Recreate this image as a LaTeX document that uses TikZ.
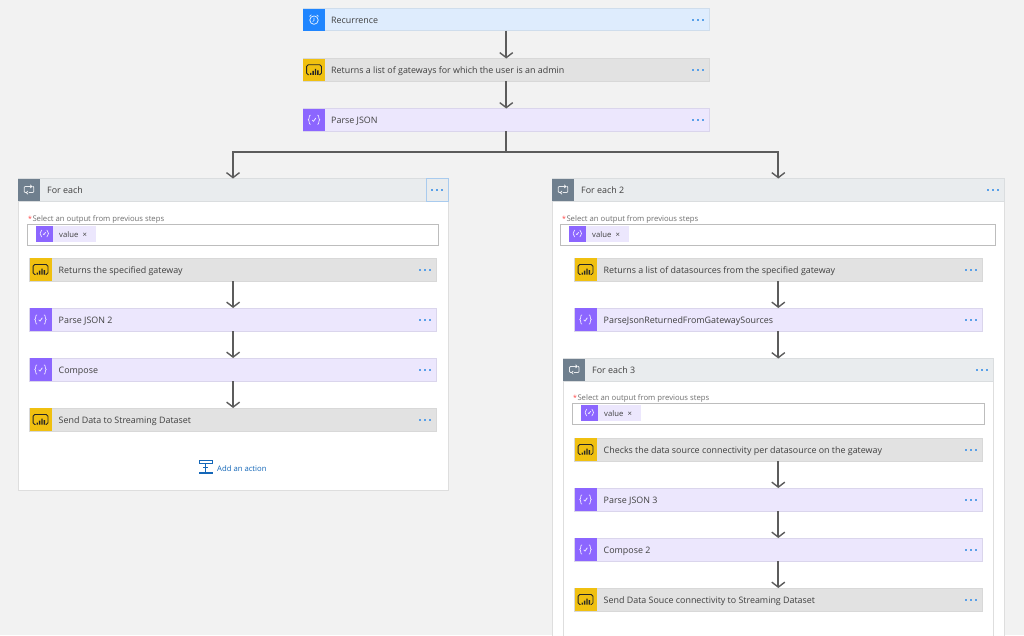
\documentclass[tikz,border=0pt]{standalone}
\usepackage{fontspec}
\setmainfont{Open Sans}
\usetikzlibrary{arrows.meta,calc}
\definecolor{pagebg}{HTML}{F2F2F2}
\definecolor{txt}{HTML}{404040}
\definecolor{sub}{HTML}{707070}
\definecolor{dotc}{HTML}{5AA0E8}
\definecolor{linkc}{HTML}{1467B8}
\definecolor{flowc}{HTML}{5C5C5C}
\definecolor{menuBd}{HTML}{A9CBEE}
\definecolor{blueBg}{HTML}{DEECFD}\definecolor{blueIc}{HTML}{1F85FF}\definecolor{blueBd}{HTML}{CFDDEC}
\definecolor{goldBg}{HTML}{E2E2E2}\definecolor{goldIc}{HTML}{F0C010}\definecolor{goldBd}{HTML}{D8D8D8}
\definecolor{purpBg}{HTML}{ECE7FD}\definecolor{purpIc}{HTML}{8C66FF}\definecolor{purpBd}{HTML}{DAD5EC}
\definecolor{greyBg}{HTML}{E9ECEE}\definecolor{greyIc}{HTML}{6F7F8E}\definecolor{greyBd}{HTML}{DADDDF}
\definecolor{cardBd}{HTML}{DEDEDE}
\definecolor{inBd}{HTML}{BDBDBD}
\tikzset{
  x=1pt,y=-1pt,
  box/.style={rectangle,inner sep=0pt,outer sep=0pt,line width=.8pt},
  steplabel/.style={anchor=base west,inner sep=0pt,text=txt,font=\fontsize{8.9}{10}\selectfont},
  sublabel/.style={anchor=base west,inner sep=0pt,text=sub,font=\fontsize{7.7}{9}\selectfont},
  flow/.style={draw=flowc,line width=1.7pt,-{Straight Barb[length=5pt,width=13pt,line width=1.4pt]}},
  trunk/.style={draw=flowc,line width=1.7pt},
  glyph/.style={draw=white,draw opacity=.85,line width=.8pt,line cap=round,line join=round},
}
% #1 name, #2 colour prefix, #3 x1, #4 y1, #5 x2, #6 y2
\newcommand{\barbox}[6]{%
  \node[box,draw=#2Bd,fill=#2Bg,minimum width={(#5-#3)*1pt},minimum height={(#6-#4)*1pt}] (#1) at ({(#3+#5)/2},{(#4+#6)/2}) {};
  \node[box,fill=#2Ic,minimum width=22pt,minimum height={(#6-#4)*1pt}] (#1-icon) at ({#3+11},{(#4+#6)/2}) {};
  \foreach \dotoff in {-5,0,5}{\path[fill=dotc] ({round(#5-11.5)+\dotoff-1},{round((#4+#6)/2)-1}) rectangle ++(2,2);}
}
\newcommand{\jsonglyph}[2][1]{%
  \begin{scope}[shift={(#2)},scale=#1]
    \draw[glyph,line width=.7pt] (-3.6,-4.6) .. controls (-5.4,-4.6) and (-4.2,-.6) .. (-5.8,0) .. controls (-4.2,.6) and (-5.4,4.6) .. (-3.6,4.6);
    \draw[glyph,line width=.7pt] (3.6,-4.6) .. controls (5.4,-4.6) and (4.2,-.6) .. (5.8,0) .. controls (4.2,.6) and (5.4,4.6) .. (3.6,4.6);
    \draw[glyph] (-1.7,.4) -- (-.5,1.6) -- (1.7,-1.6);
  \end{scope}}
\newcommand{\pbiglyph}[1]{%
  \begin{scope}[shift={(#1)}]
    \draw[draw=black!85,line width=.8pt,rounded corners=1.6pt] (-5,5) -- (-7.4,5) -- (-7.4,-5) -- (7.4,-5) -- (7.4,5) -- (5,5);
    \fill[black!85] (-4,3.2) rectangle (-2.6,5.2) (-1.6,1.2) rectangle (-.2,5.2) (.8,-.8) rectangle (2.2,5.2) (3.2,.6) rectangle (4.6,5.2);
  \end{scope}}
\newcommand{\loopglyph}[1]{%
  \begin{scope}[shift={(#1)},scale=.88]
    \draw[glyph,rounded corners=1pt] (3,-3.8) -- (-5.4,-3.8) -- (-5.4,3.2) -- (-3,3.2);
    \draw[glyph,rounded corners=1pt] (0,3.2) -- (5.4,3.2) -- (5.4,-3.8) -- (5,-3.8);
    \draw[glyph] (1.6,-5.4) -- (3.2,-3.8) -- (1.6,-2.2);
    \draw[glyph] (-1.4,1.6) -- (-3,3.2) -- (-1.4,4.8);
  \end{scope}}
% #1 name, #2 y1, #3 x1, #4 x2, #5 text
\newcommand{\goldstep}[5]{\barbox{#1}{gold}{#3}{#2}{#4}{\the\numexpr#2+23\relax}
  \pbiglyph{#1-icon}
  \node[steplabel] (#1-text) at ({#3+29},{#2+15.2}) {#5};}
\newcommand{\purpstep}[5]{\barbox{#1}{purp}{#3}{#2}{#4}{\the\numexpr#2+23\relax}
  \jsonglyph{#1-icon}
  \node[steplabel] (#1-text) at ({#3+29},{#2+15.2}) {#5};}
% #1 name, #2 label x, #3 input x1, #4 input x2, #5 y of input top
\newcommand{\selector}[5]{%
  \node[sublabel] (#1-label) at ({#2+4.3},{#5-2.3}) {Select an output from previous steps};
  \node[anchor=base west,inner sep=0pt,text=red!75,font=\fontsize{7}{8}\selectfont] (#1-star) at (#2,{#5-2.3}) {*};
  \node[box,draw=inBd,fill=white,minimum width={(#4-#3)*1pt},minimum height=21pt] (#1-input) at ({(#3+#4)/2},{#5+10.5}) {};
  \node[box,fill=purpBg,minimum width=60pt,minimum height=16pt] (#1-token) at ({#3+38.5},{#5+9.5}) {};
  \node[box,fill=purpIc,minimum width=16.5pt,minimum height=16pt] (#1-ticon) at ({#3+16.8},{#5+9.5}) {};
  \jsonglyph[.72]{#1-ticon}
  \node[sublabel,text=txt] (#1-value) at ({#3+31.5},{#5+13}) {value};
  \node[sublabel,text=txt] (#1-x) at ({#3+55},{#5+13}) {×};
}
\begin{document}
\begin{tikzpicture}
\useasboundingbox (0,0) rectangle (1024,635);
\fill[pagebg] (0,0) rectangle (1024,635);

% top chain
\barbox{rec}{blue}{303}{8.5}{709.5}{30.7}
\begin{scope}[shift={(rec-icon)}]
  \draw[glyph] (0,.5) circle (4.2);
  \draw[glyph,line width=.6pt] (0,-1.7) -- (0,.9) -- (-1.3,1.9);
  \draw[glyph] (-4.4,-3.2) -- (-2.8,-4.6) (4.4,-3.2) -- (2.8,-4.6);
\end{scope}
\node[steplabel] (rec-text) at (331,23) {Recurrence};
\barbox{gw}{gold}{303}{58.5}{709.5}{81}
\pbiglyph{gw-icon}
\node[steplabel] (gw-text) at (331,73) {Returns a list of gateways for which the user is an admin};
\barbox{pj}{purp}{303}{108.5}{709.5}{131}
\jsonglyph{pj-icon}
\node[steplabel] (pj-text) at (331,123.3) {Parse JSON};

% left card
\node[box,draw=cardBd,fill=white,minimum width=430pt,minimum height=312pt] (card1) at (233,334) {};
\barbox{fe1}{grey}{18}{178.5}{448}{201}
\loopglyph{fe1-icon}
\node[steplabel] (fe1-text) at (47,193.7) {For each};
\node[box,draw=menuBd,line width=.9pt,minimum width=22pt,minimum height=22.5pt] (fe1-menu) at (437,189.8) {};
\selector{s1}{28}{27.5}{438.5}{224}
\goldstep{a1}{258}{29.5}{436.7}{Returns the specified gateway}
\purpstep{a2}{308}{29.5}{436.7}{Parse JSON 2}
\purpstep{a3}{358}{29.5}{436.7}{Compose}
\goldstep{a4}{408}{29.5}{436.7}{Send Data to Streaming Dataset}
% add an action
\node[box,draw=linkc,line width=.7pt,minimum width=13.5pt,minimum height=2.6pt] (add-top) at (205.7,462) {};
\node[box,fill=linkc,minimum width=14pt,minimum height=2.6pt] (add-bar) at (205.7,472.8) {};
\draw[linkc,line width=.7pt] (add-top.south) -- (add-bar.north);
\draw[linkc,line width=.7pt] (203.2,467.8) -- (208.2,467.8);
\node[anchor=base west,inner sep=0pt,text=linkc,font=\fontsize{7.7}{9}\selectfont] (add-text) at (217,471) {Add an action};

% right card
\node[box,draw=cardBd,fill=white,minimum width=452.6pt,minimum height=480pt] (card2) at (778.3,418) {};
\barbox{fe2}{grey}{552}{178.5}{1004.6}{201}
\loopglyph{fe2-icon}
\node[steplabel] (fe2-text) at (581,193.7) {For each 2};
\selector{s2}{562}{560.5}{995.5}{224}
\goldstep{b1}{258}{574.5}{982.1}{Returns a list of datasources from the specified gateway}
\purpstep{b2}{308}{574.5}{982.1}{ParseJsonReturnedFromGatewaySources}

% nested card
\node[box,draw=cardBd,fill=white,minimum width=430pt,minimum height=300pt] (card3) at (778.3,509) {};
\barbox{fe3}{grey}{563.3}{358.5}{993.3}{381}
\loopglyph{fe3-icon}
\node[steplabel] (fe3-text) at (592,373.7) {For each 3};
\selector{s3}{573}{572.5}{984}{403}
\goldstep{c1}{438}{574.5}{982.1}{Checks the data source connectivity per datasource on the gateway}
\purpstep{c2}{488}{574.5}{982.1}{Parse JSON 3}
\purpstep{c3}{538}{574.5}{982.1}{Compose 2}
\goldstep{c4}{588}{574.5}{982.1}{Send Data Souce connectivity to Streaming Dataset}

% connectors
\draw[flow] (rec.south) -- (gw.north);
\draw[flow] (gw.south) -- (pj.north);
\coordinate (split) at ($(pj.south)+(0,21)$);
\draw[trunk] (pj.south) -- (split);
\draw[flow] (split) -| (fe1.north);
\draw[flow] (split) -| (fe2.north);
\draw[flow] (a1.south) -- (a2.north);
\draw[flow] (a2.south) -- (a3.north);
\draw[flow] (a3.south) -- (a4.north);
\draw[flow] (b1.south) -- (b2.north);
\draw[flow] (b2.south) -- (fe3.north);
\draw[flow] (c1.south) -- (c2.north);
\draw[flow] (c2.south) -- (c3.north);
\draw[flow] (c3.south) -- (c4.north);
\end{tikzpicture}
\end{document}
